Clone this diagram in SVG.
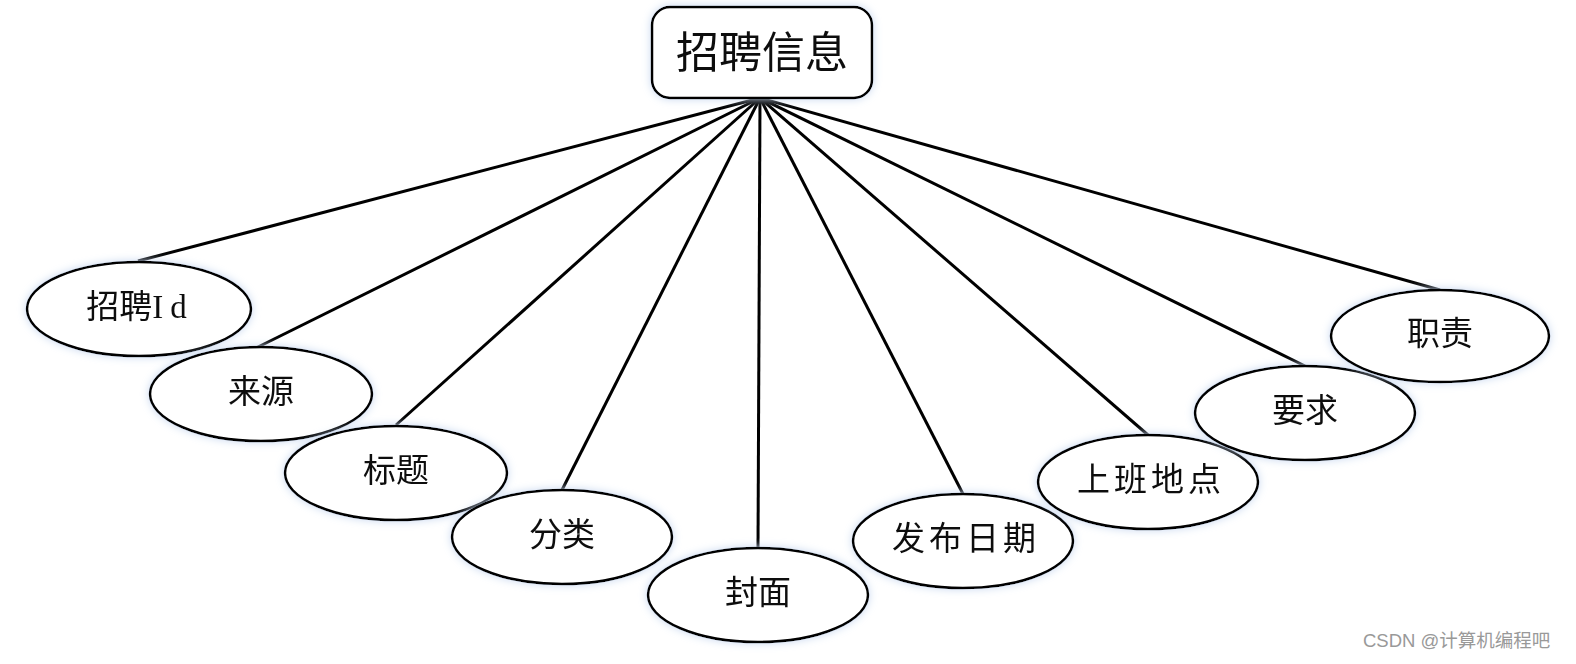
<svg xmlns="http://www.w3.org/2000/svg" width="1576" height="664" viewBox="0 0 1576 664">
<style>
.shape{fill:#fff;stroke:#000;stroke-width:2.5}
.lbl{font-family:"Liberation Serif","Noto Sans CJK SC",serif;font-size:33px;fill:#111;text-anchor:middle;dominant-baseline:central}
.title{font-size:43px}
.conn line{stroke:#000;stroke-width:3}
.wm{font-family:"Liberation Sans","Noto Sans CJK SC",sans-serif;font-size:18.5px;fill:#999}
</style>
<defs>
<filter id="glow" x="-20%" y="-20%" width="140%" height="140%">
<feGaussianBlur in="SourceAlpha" stdDeviation="4" result="b"/>
<feFlood flood-color="#c8d8f0" result="c"/>
<feComposite in="c" in2="b" operator="in" result="s"/>
<feMerge><feMergeNode in="s"/><feMergeNode in="SourceGraphic"/></feMerge>
</filter>
</defs>
<rect width="1576" height="664" fill="#fff"/>
<g class="conn">
<line x1="760" y1="98" x2="138" y2="261"/>
<line x1="760" y1="98" x2="256" y2="348"/>
<line x1="760" y1="98" x2="396" y2="425"/>
<line x1="760" y1="98" x2="562" y2="490"/>
<line x1="760" y1="98" x2="758" y2="548"/>
<line x1="760" y1="98" x2="963" y2="494"/>
<line x1="760" y1="98" x2="1148" y2="435"/>
<line x1="760" y1="98" x2="1305" y2="366"/>
<line x1="760" y1="98" x2="1440" y2="290"/>
</g>
<g id="n-main" filter="url(#glow)"><rect class="shape" x="652" y="7" width="220" height="91" rx="18"/><text class="lbl title" x="762" y="53">招聘信息</text></g>
<g id="n-id" filter="url(#glow)"><ellipse class="shape" cx="139" cy="309" rx="112" ry="47"/><text class="lbl" x="140" y="307">招聘<tspan letter-spacing="7">Id</tspan></text></g>
<g id="n-source" filter="url(#glow)"><ellipse class="shape" cx="261" cy="394" rx="111" ry="47"/><text class="lbl" x="261" y="392">来源</text></g>
<g id="n-title" filter="url(#glow)"><ellipse class="shape" cx="396" cy="473" rx="111" ry="47"/><text class="lbl" x="396" y="471">标题</text></g>
<g id="n-cat" filter="url(#glow)"><ellipse class="shape" cx="562" cy="537" rx="110" ry="47"/><text class="lbl" x="562" y="535">分类</text></g>
<g id="n-cover" filter="url(#glow)"><ellipse class="shape" cx="758" cy="595" rx="110" ry="47"/><text class="lbl" x="758" y="593">封面</text></g>
<g id="n-date" filter="url(#glow)"><ellipse class="shape" cx="963" cy="541" rx="110" ry="47"/><text class="lbl" x="966" y="539" letter-spacing="4">发布日期</text></g>
<g id="n-loc" filter="url(#glow)"><ellipse class="shape" cx="1148" cy="482" rx="110" ry="47"/><text class="lbl" x="1151" y="480" letter-spacing="4">上班地点</text></g>
<g id="n-req" filter="url(#glow)"><ellipse class="shape" cx="1305" cy="413" rx="110" ry="47"/><text class="lbl" x="1305" y="411">要求</text></g>
<g id="n-duty" filter="url(#glow)"><ellipse class="shape" cx="1440" cy="336" rx="109" ry="46"/><text class="lbl" x="1440" y="334">职责</text></g>
<text class="wm" x="1363" y="647">CSDN @计算机编程吧</text>
</svg>
